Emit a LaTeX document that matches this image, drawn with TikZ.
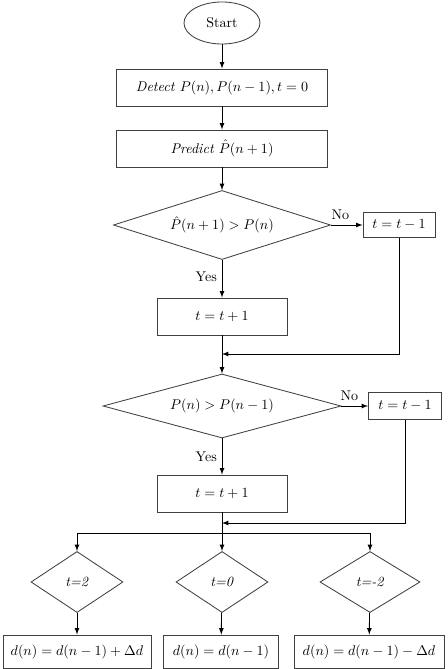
\documentclass[tikz,border=0pt]{standalone}
\usepackage{amsmath}
\usepgflibrary{shapes.geometric}
\usetikzlibrary{calc}

\begin{document}
\begin{tikzpicture}[x=0.025cm, y=-0.025cm, >=latex, line width=0.6pt,
	box/.style = {draw=black!75, rectangle, inner sep=0pt, minimum height=0.925cm},
	test/.style = {draw=black!75, diamond, inner sep=0pt},
	casetest/.style = {test, shape aspect=1.5, minimum width=2.3cm, minimum height=1.525cm},
	result/.style = {box, minimum height=0.825cm}]
	\useasboundingbox (0, 0) rectangle (447, 669);
	% main column
	\node[draw=black!75, ellipse, minimum width=1.9cm, minimum height=1.05cm] (start) at (222, 23) {Start};
	\node[box, minimum width=5.275cm] (detect) at (222, 87.5) {\textit{Detect} $P(n), P(n-1), t=0$};
	\node[box, minimum width=5.275cm] (predict) at (222, 148.5) {\textit{Predict} $\hat{P}(n+1)$};
	\node[test, shape aspect=3.1, minimum width=5.425cm, minimum height=1.725cm] (test1) at (222, 225) {$\hat{P}(n+1) > P(n)$};
	\node[box, minimum width=1.8cm, minimum height=0.625cm] (dec1) at (399, 225) {$t=t-1$};
	\node[box, minimum width=3.25cm] (inc1) at (222, 316.5) {$t=t+1$};
	\node[test, shape aspect=3.7, minimum width=5.95cm, minimum height=1.6cm] (test2) at (222, 406) {$P(n) > P(n-1)$};
	\node[box, minimum width=1.825cm, minimum height=0.675cm] (dec2) at (405, 406) {$t=t-1$};
	\node[box, minimum width=3.25cm] (inc2) at (222, 493.5) {$t=t+1$};
	\coordinate (join1) at (222, 354);
	\coordinate (join2) at (222, 523);
	\coordinate (fork) at (222, 533);
	% three cases
	\node[casetest] (case1) at (77, 582) {\textit{t=2}};
	\node[casetest] (case2) at (222, 582) {\textit{t=0}};
	\node[casetest, shape aspect=1.65, minimum width=2.5cm] (case3) at (370, 582) {\textit{t=-2}};
	\node[result, minimum width=3.7cm] (res1) at (77, 651.5) {$d(n) = d(n-1) + \Delta d$};
	\node[result, minimum width=2.875cm] (res2) at (221, 651.5) {$d(n) = d(n-1)$};
	\node[result, minimum width=3.75cm] (res3) at (369, 651.5) {$d(n) = d(n-1) - \Delta d$};
	% connectors
	\draw[->] (start) -- (detect);
	\draw[->] (detect) -- (predict);
	\draw[->] (predict) -- (test1);
	\draw[->] (test1.east) -- node[pos=0.3, above] {No} (dec1);
	\draw[->] (test1.south) -- node[pos=0.45, left] {Yes} (inc1);
	\draw[->] (dec1.south) |- (join1);
	\draw[->] (inc1) -- (test2);
	\draw[->] (test2.east) -- node[pos=0.3, above] {No} (dec2);
	\draw[->] (test2.south) -- node[pos=0.5, left] {Yes} (inc2);
	\draw[->] (dec2.south) |- (join2);
	\draw (inc2) -- (fork);
	\draw[->] (fork) -| (case1);
	\draw[->] (fork) -- (case2);
	\draw[->] (fork) -| (case3);
	\draw[->] (case1) -- (res1);
	\draw[->] (case2) -- (res2);
	\draw[->] (case3) -- (res3);
\end{tikzpicture}
\end{document}
